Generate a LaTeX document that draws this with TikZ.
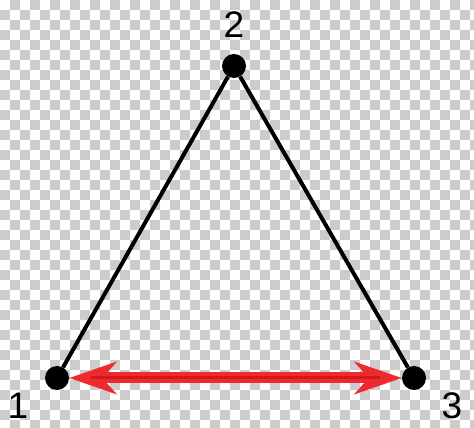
\documentclass[tikz,border=0pt]{standalone}
\usepackage{fontspec}
\setmainfont{Liberation Sans}
\usepackage{tikz}
\usetikzlibrary{arrows.meta}
\definecolor{checkgray}{HTML}{CCCCCC}
\definecolor{arrowred}{HTML}{EE2A2E}
\definecolor{arrowdark}{HTML}{CC1A1E}
\tikzstyle{vertex} = [circle, fill=black, inner sep=0pt, minimum size=24pt]
\tikzstyle{numlabel} = [font=\fontsize{37}{37}\selectfont, inner sep=0pt]
\tikzstyle{edge} = [line width=4pt, black]
\tikzstyle{arrow} = [line width=11pt, arrowred, {Stealth[length=47pt,width=32pt,inset=14pt]}-{Stealth[length=47pt,width=32pt,inset=14pt]}]

\begin{document}
\begin{tikzpicture}[x=1pt, y=1pt]

\useasboundingbox (0,0) rectangle (474,428);
\clip (0,0) rectangle (474,428);

% transparency checkerboard
\fill[white] (0,0) rectangle (474,428);
\foreach \i in {0,...,47} {
  \foreach \j in {0,...,42} {
    \pgfmathtruncatemacro{\parity}{mod(\i+\j,2)}
    \ifnum\parity=1
      \fill[checkgray] (10*\i,428-10*\j) rectangle ++(10,-10);
    \fi
  }
}

\node(one)   [vertex] at (57,50)  {};
\node(two)   [vertex] at (234,362) {};
\node(three) [vertex] at (414,50) {};

\node(lone)   [numlabel] at (18,22)  {1};
\node(ltwo)   [numlabel] at (234,403) {2};
\node(lthree) [numlabel] at (452,22) {3};

\draw [edge] (one) -- (two);
\draw [edge] (two) -- (three);
\draw [arrow] (one.east) -- (three.west);
\draw [line width=3pt, arrowdark] ([xshift=22pt]one.east) -- ([xshift=-22pt]three.west);

\end{tikzpicture}
\end{document}
